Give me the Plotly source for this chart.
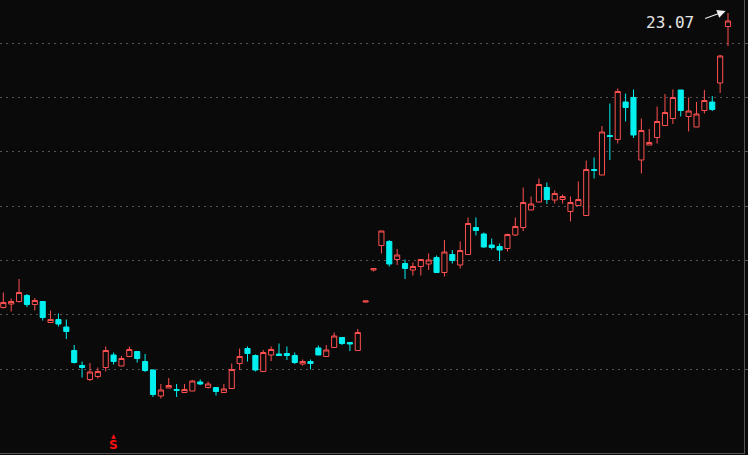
import plotly.graph_objects as go

# Daily candles (index = trading day), prices
open_ = [17.18, 17.25, 17.30, 17.42, 17.24, 17.30, 16.88, 16.94, 16.79, 16.32,
         16.02, 15.74, 15.80, 15.98, 16.23, 16.01, 16.20, 16.30, 16.10, 15.93,
         15.41, 15.57, 15.54, 15.48, 15.51, 15.69, 15.58, 15.58, 15.48, 15.56,
         16.06, 16.36, 16.22, 15.90, 16.23, 16.25, 16.26, 16.22, 16.05, 16.10,
         16.37, 16.20, 16.38, 16.58, 16.48, 16.32, 17.29, 17.93, 18.42, 18.50,
         18.14, 18.06, 17.93, 18.00, 18.05, 18.18, 17.88, 18.24, 18.03, 18.24,
         18.78, 18.65, 18.43, 18.40, 18.36, 18.63, 18.78, 19.13, 19.29, 19.58,
         19.33, 19.34, 19.10, 19.22, 19.02, 19.94, 19.83, 20.62, 20.54, 21.29,
         21.38, 20.13, 20.43, 20.58, 20.82, 20.96, 21.53, 21.00, 20.79, 21.12,
         21.29, 21.67, 22.80]
high = [17.48, 17.36, 17.75, 17.45, 17.37, 17.31, 17.12, 17.06, 16.94, 16.43,
        16.10, 16.07, 15.98, 16.40, 16.28, 16.21, 16.40, 16.31, 16.25, 15.94,
        15.65, 15.77, 15.65, 15.65, 15.73, 15.74, 15.70, 15.59, 15.65, 16.06,
        16.36, 16.40, 16.24, 16.33, 16.40, 16.46, 16.40, 16.28, 16.14, 16.14,
        16.42, 16.43, 16.68, 16.58, 16.48, 16.75, 17.31, 17.96, 18.71, 18.53,
        18.35, 18.14, 18.08, 18.14, 18.26, 18.22, 18.53, 18.33, 18.50, 18.98,
        18.98, 18.68, 18.56, 18.46, 18.66, 18.98, 19.58, 19.40, 19.76, 19.68,
        19.52, 19.44, 19.40, 19.70, 20.12, 20.18, 20.81, 21.26, 21.56, 21.46,
        21.54, 20.96, 20.75, 21.20, 21.45, 21.54, 21.53, 21.38, 21.29, 21.53,
        21.41, 22.23, 23.07]
low = [17.16, 17.10, 17.28, 17.19, 17.12, 16.92, 16.88, 16.80, 16.55, 16.06,
       15.78, 15.71, 15.76, 15.90, 16.04, 16.01, 16.20, 16.08, 15.89, 15.39,
       15.36, 15.57, 15.39, 15.48, 15.51, 15.63, 15.56, 15.42, 15.48, 15.56,
       15.93, 16.10, 15.90, 15.90, 16.11, 16.22, 16.13, 16.05, 16.02, 15.94,
       16.23, 16.20, 16.38, 16.43, 16.31, 16.32, 17.28, 17.90, 18.26, 18.00,
       18.03, 17.75, 17.82, 17.82, 17.93, 17.88, 17.80, 18.06, 17.96, 18.24,
       18.62, 18.38, 18.34, 18.11, 18.30, 18.61, 18.71, 19.13, 19.29, 19.25,
       19.26, 19.26, 18.90, 19.22, 19.02, 19.76, 19.83, 20.13, 20.46, 20.90,
       20.57, 19.86, 20.43, 20.46, 20.82, 20.85, 21.00, 20.70, 20.79, 21.06,
       21.11, 21.47, 22.41]
close = [17.28, 17.30, 17.48, 17.24, 17.32, 16.98, 16.94, 16.85, 16.70, 16.08,
         15.98, 15.89, 15.90, 16.32, 16.10, 16.16, 16.34, 16.16, 15.92, 15.44,
         15.53, 15.62, 15.52, 15.54, 15.71, 15.65, 15.65, 15.50, 15.55, 15.94,
         16.20, 16.26, 15.93, 16.28, 16.34, 16.22, 16.22, 16.08, 16.10, 16.06,
         16.23, 16.33, 16.61, 16.46, 16.45, 16.68, 17.31, 17.96, 18.71, 18.05,
         18.23, 17.96, 18.00, 18.14, 18.13, 17.88, 18.29, 18.12, 18.32, 18.86,
         18.72, 18.39, 18.38, 18.33, 18.64, 18.80, 19.28, 19.25, 19.64, 19.34,
         19.46, 19.40, 19.28, 19.34, 19.94, 19.92, 20.69, 20.60, 21.50, 21.18,
         20.63, 20.72, 20.48, 20.90, 21.08, 21.38, 21.12, 21.11, 21.05, 21.32,
         21.14, 22.21, 22.91]
days = list(range(len(close)))

grid_levels = [22.47, 21.38, 20.30, 19.21, 18.12, 17.04, 15.95]
max_label = "23.07"
signal_day = 14
signal_label = "S"

RED = "#ff5050"
CYAN = "#00f0f0"
BG = "#0a0a0a"

fig = go.Figure()
fig.add_trace(go.Candlestick(
    x=days, open=open_, high=high, low=low, close=close,
    increasing=dict(line=dict(color=RED, width=1), fillcolor=BG),
    decreasing=dict(line=dict(color=CYAN, width=1), fillcolor=CYAN),
    whiskerwidth=0, hoverinfo="skip", showlegend=False,
))

fig.add_annotation(xref="paper", yref="paper", x=0.8999, y=1 - 22.5 / 453,
                   xanchor="center", yanchor="middle",
                   text=max_label, showarrow=False,
                   font=dict(family="DejaVu Sans Mono", size=16, color="#e6e6e6"))
fig.add_annotation(x=days[-1] - 0.3, y=max(high) + 0.04, text="",
                   showarrow=True, ax=-22, ay=8, arrowhead=2, arrowsize=1.4,
                   arrowwidth=1.2, arrowcolor="#f0f0f0", standoff=0)
fig.add_annotation(x=signal_day, xref="x", yref="paper", y=1 - 444.5 / 453,
                   xanchor="center", yanchor="middle",
                   text="<b>" + signal_label + "</b>", showarrow=False,
                   font=dict(family="DejaVu Sans", size=12, color="#ff1010"))
fig.add_annotation(x=signal_day, xref="x", yref="paper", y=1 - 435 / 453,
                   xanchor="center", yanchor="middle",
                   text="▲", showarrow=False,
                   font=dict(family="DejaVu Sans", size=6, color="#ff1010"))

fig.update_layout(
    width=748, height=455,
    margin=dict(l=0, r=4, t=0, b=2),
    paper_bgcolor=BG, plot_bgcolor=BG,
    boxgap=0.35, boxgroupgap=0,
    hovermode=False,
    xaxis=dict(range=[-0.419, 94.03], showgrid=False, zeroline=False,
               showticklabels=False, rangeslider=dict(visible=False),
               showline=True, linecolor="#555555", linewidth=1, ticks=""),
    yaxis=dict(range=[14.27, 23.33], side="right", tickvals=grid_levels,
               showticklabels=False, showgrid=True, gridcolor="#555555",
               griddash="2px,4px", gridwidth=1, zeroline=False,
               showline=True, linecolor="#555555", linewidth=1,
               ticks="outside", ticklen=3, tickcolor="#555555"),
)

fig.write_html("out.html",
               config={"displayModeBar": False, "staticPlot": True},
               post_script="document.body.style.margin='0';"
                           "document.body.style.background='#0a0a0a';")
